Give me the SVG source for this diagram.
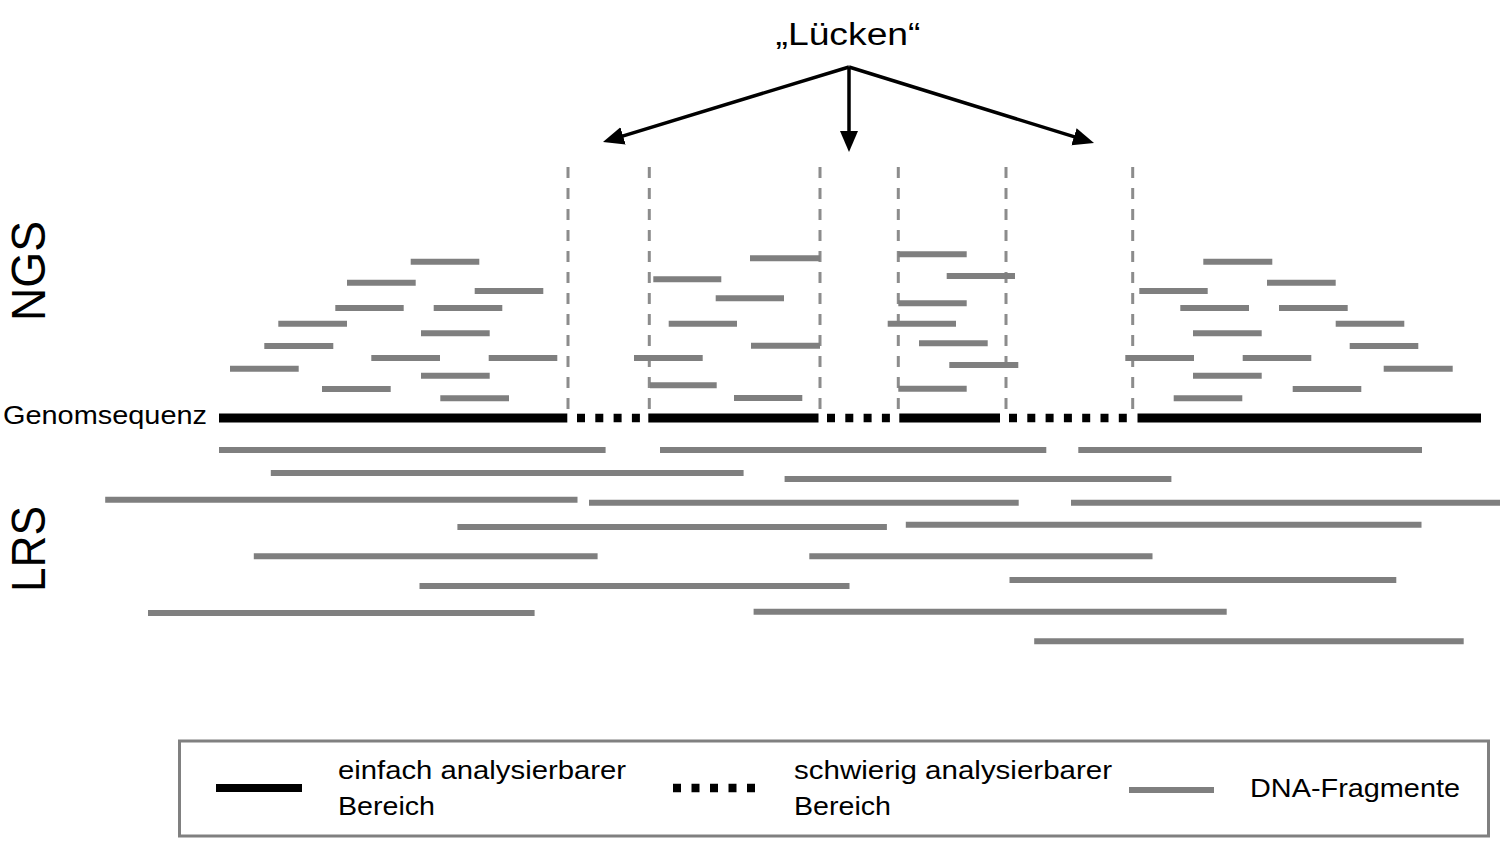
<svg xmlns="http://www.w3.org/2000/svg" width="1500" height="842" viewBox="0 0 1500 842">
<style>
.frag{stroke:#7f7f7f;stroke-width:6;fill:none}
.lrs{stroke:#7f7f7f;stroke-width:6;fill:none}
.guide{stroke:#8c8c8c;stroke-width:3;stroke-dasharray:11 10;fill:none}
.solid{stroke:#000;stroke-width:9;fill:none}
.dotted{stroke:#000;stroke-width:8.5;stroke-dasharray:8 10.3;fill:none}
.arrow{stroke:#000;stroke-width:3.5;fill:none;marker-end:url(#ah)}
.t{font-family:"Liberation Sans",Arial,sans-serif;fill:#000}
</style>
<defs>
<marker id="ah" markerUnits="userSpaceOnUse" markerWidth="22" markerHeight="20" refX="10" refY="9" orient="auto">
<path d="M0,0 L21,9 L0,18 Z" fill="#000"/>
</marker>
</defs>
<rect width="1500" height="842" fill="#fff"/>

<g id="title">
<text class="t" x="848" y="45" font-size="31" text-anchor="middle" textLength="145" lengthAdjust="spacingAndGlyphs">„Lücken“</text>
</g>

<g id="connectors">
<line class="arrow" x1="849" y1="67" x2="613.5" y2="138.8"/>
<line class="arrow" x1="849" y1="67" x2="849" y2="141"/>
<line class="arrow" x1="849" y1="67" x2="1083.5" y2="139.7"/>
</g>

<g id="labels">
<text class="t" transform="translate(45,271) rotate(-90)" font-size="48" text-anchor="middle" textLength="100" lengthAdjust="spacingAndGlyphs">NGS</text>
<text class="t" transform="translate(45,549) rotate(-90)" font-size="48" text-anchor="middle" textLength="86" lengthAdjust="spacingAndGlyphs">LRS</text>
<text class="t" x="3" y="424" font-size="26" textLength="204" lengthAdjust="spacingAndGlyphs">Genomsequenz</text>
</g>

<g id="guides">
<line class="guide" x1="568" y1="167" x2="568" y2="418"/>
<line class="guide" x1="649.3" y1="167" x2="649.3" y2="418"/>
<line class="guide" x1="820" y1="167" x2="820" y2="418"/>
<line class="guide" x1="898.3" y1="167" x2="898.3" y2="418"/>
<line class="guide" x1="1006" y1="167" x2="1006" y2="418"/>
<line class="guide" x1="1132.7" y1="167" x2="1132.7" y2="418"/>
</g>

<g id="ngs-fragments">
<line class="frag" x1="410.7" y1="261.7" x2="479.3" y2="261.7"/>
<line class="frag" x1="347" y1="282.7" x2="415.7" y2="282.7"/>
<line class="frag" x1="474.7" y1="291" x2="543.3" y2="291"/>
<line class="frag" x1="335.3" y1="308" x2="403.7" y2="308"/>
<line class="frag" x1="433.7" y1="308" x2="502.3" y2="308"/>
<line class="frag" x1="278.3" y1="323.7" x2="347" y2="323.7"/>
<line class="frag" x1="421" y1="333.3" x2="489.7" y2="333.3"/>
<line class="frag" x1="264.3" y1="346" x2="333.3" y2="346"/>
<line class="frag" x1="371.3" y1="358" x2="440" y2="358"/>
<line class="frag" x1="488.7" y1="358" x2="557.3" y2="358"/>
<line class="frag" x1="230" y1="368.7" x2="298.7" y2="368.7"/>
<line class="frag" x1="421" y1="375.7" x2="489.7" y2="375.7"/>
<line class="frag" x1="322" y1="389" x2="390.7" y2="389"/>
<line class="frag" x1="440.3" y1="398.3" x2="509" y2="398.3"/>

<line class="frag" x1="750" y1="258.3" x2="820" y2="258.3"/>
<line class="frag" x1="653.3" y1="279.3" x2="721.3" y2="279.3"/>
<line class="frag" x1="715.7" y1="298.3" x2="784" y2="298.3"/>
<line class="frag" x1="668.7" y1="323.7" x2="737" y2="323.7"/>
<line class="frag" x1="751" y1="345.7" x2="820" y2="345.7"/>
<line class="frag" x1="634" y1="358" x2="702.7" y2="358"/>
<line class="frag" x1="650" y1="385.3" x2="716.7" y2="385.3"/>
<line class="frag" x1="734" y1="398" x2="802.3" y2="398"/>

<line class="frag" x1="898.3" y1="254.3" x2="966.7" y2="254.3"/>
<line class="frag" x1="946.7" y1="276" x2="1015" y2="276"/>
<line class="frag" x1="898.3" y1="303.3" x2="966.7" y2="303.3"/>
<line class="frag" x1="887.7" y1="323.7" x2="956" y2="323.7"/>
<line class="frag" x1="919" y1="343.3" x2="987.7" y2="343.3"/>
<line class="frag" x1="949.3" y1="365" x2="1018.3" y2="365"/>
<line class="frag" x1="898.3" y1="388.7" x2="966.7" y2="388.7"/>

<line class="frag" x1="1203.3" y1="261.7" x2="1272.3" y2="261.7"/>
<line class="frag" x1="1267" y1="282.7" x2="1335.7" y2="282.7"/>
<line class="frag" x1="1139.3" y1="291" x2="1207.7" y2="291"/>
<line class="frag" x1="1180.3" y1="308" x2="1249" y2="308"/>
<line class="frag" x1="1279" y1="308" x2="1347.7" y2="308"/>
<line class="frag" x1="1335.7" y1="323.7" x2="1404.3" y2="323.7"/>
<line class="frag" x1="1193" y1="333.3" x2="1261.7" y2="333.3"/>
<line class="frag" x1="1349.7" y1="346" x2="1418.3" y2="346"/>
<line class="frag" x1="1125.3" y1="358" x2="1194" y2="358"/>
<line class="frag" x1="1242.7" y1="358" x2="1311.3" y2="358"/>
<line class="frag" x1="1383.7" y1="368.7" x2="1452.7" y2="368.7"/>
<line class="frag" x1="1193" y1="375.7" x2="1261.7" y2="375.7"/>
<line class="frag" x1="1292.7" y1="389" x2="1361.3" y2="389"/>
<line class="frag" x1="1173.7" y1="398.3" x2="1242.3" y2="398.3"/>
</g>

<g id="genome">
<line class="solid" x1="219" y1="418" x2="567.3" y2="418"/>
<line class="dotted" x1="577" y1="418" x2="648" y2="418"/>
<line class="solid" x1="648.3" y1="418" x2="818.5" y2="418"/>
<line class="dotted" x1="827" y1="418" x2="898" y2="418"/>
<line class="solid" x1="899.3" y1="418" x2="1000" y2="418"/>
<line class="dotted" x1="1009" y1="418" x2="1130" y2="418"/>
<line class="solid" x1="1137.5" y1="418" x2="1481" y2="418"/>
</g>

<g id="lrs-fragments">
<line class="lrs" x1="219" y1="450" x2="605.6" y2="450"/>
<line class="lrs" x1="660" y1="450" x2="1046.3" y2="450"/>
<line class="lrs" x1="1078.3" y1="450" x2="1422" y2="450"/>
<line class="lrs" x1="270.8" y1="473" x2="743.6" y2="473"/>
<line class="lrs" x1="784.6" y1="479" x2="1171.4" y2="479"/>
<line class="lrs" x1="105.2" y1="499.7" x2="577.5" y2="499.7"/>
<line class="lrs" x1="589" y1="502.7" x2="1018.7" y2="502.7"/>
<line class="lrs" x1="1071" y1="502.7" x2="1500" y2="502.7"/>
<line class="lrs" x1="457.4" y1="527" x2="886.9" y2="527"/>
<line class="lrs" x1="905.8" y1="524.7" x2="1421.5" y2="524.7"/>
<line class="lrs" x1="253.8" y1="556.3" x2="597.6" y2="556.3"/>
<line class="lrs" x1="809.3" y1="556.3" x2="1152.5" y2="556.3"/>
<line class="lrs" x1="419.5" y1="586" x2="849.5" y2="586"/>
<line class="lrs" x1="1009.5" y1="580" x2="1396.3" y2="580"/>
<line class="lrs" x1="148" y1="613" x2="534.6" y2="613"/>
<line class="lrs" x1="753.6" y1="611.7" x2="1226.7" y2="611.7"/>
<line class="lrs" x1="1034.2" y1="641.3" x2="1463.7" y2="641.3"/>
</g>

<g id="legend">
<rect x="179.5" y="741" width="1309" height="95" fill="none" stroke="#808080" stroke-width="3"/>
<line x1="216" y1="788" x2="302" y2="788" stroke="#000" stroke-width="8"/>
<text class="t" x="338" y="779" font-size="26" textLength="288" lengthAdjust="spacingAndGlyphs">einfach analysierbarer</text>
<text class="t" x="338" y="815" font-size="26" textLength="97" lengthAdjust="spacingAndGlyphs">Bereich</text>
<line x1="673" y1="788" x2="755" y2="788" stroke="#000" stroke-width="8.5" stroke-dasharray="8 10.5"/>
<text class="t" x="794" y="779" font-size="26" textLength="318" lengthAdjust="spacingAndGlyphs">schwierig analysierbarer</text>
<text class="t" x="794" y="815" font-size="26" textLength="97" lengthAdjust="spacingAndGlyphs">Bereich</text>
<line x1="1129" y1="790" x2="1214" y2="790" stroke="#7f7f7f" stroke-width="6"/>
<text class="t" x="1250" y="797" font-size="26" textLength="210" lengthAdjust="spacingAndGlyphs">DNA-Fragmente</text>
</g>
</svg>
